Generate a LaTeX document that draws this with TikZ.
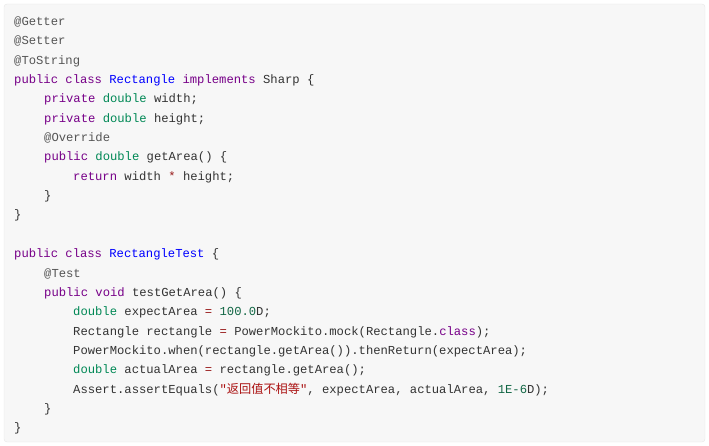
\documentclass[tikz,border=0pt]{standalone}
\usepackage{fontspec}
\newfontfamily\cf{Liberation Mono}
\newfontfamily\cjk{Noto Sans CJK SC}
\definecolor{bgc}{HTML}{F7F7F7}
\definecolor{bdc}{HTML}{E6E6E6}
\definecolor{kw}{HTML}{770088}
\definecolor{ty}{HTML}{008855}
\definecolor{df}{HTML}{0000FF}
\definecolor{an}{HTML}{555555}
\definecolor{nm}{HTML}{116644}
\definecolor{op}{HTML}{981A1A}
\definecolor{st}{HTML}{AA1111}
\definecolor{tx}{HTML}{333333}
\newcommand\K[1]{\textcolor{kw}{#1}}
\newcommand\T[1]{\textcolor{ty}{#1}}
\newcommand\D[1]{\textcolor{df}{#1}}
\newcommand\A[1]{\textcolor{an}{#1}}
\newcommand\N[1]{\textcolor{nm}{#1}}
\newcommand\R[1]{\textcolor{op}{#1}}
\newcommand\Sx[1]{\textcolor{st}{#1}}
\tikzset{codeline/.style={anchor=base west,inner sep=0pt,font=\cf\fontsize{12.2}{14}\selectfont,text=tx}}
\begin{document}
\begin{tikzpicture}[x=1pt,y=1pt]
\useasboundingbox (0,0) rectangle (709,-446);
\draw[bdc,fill=bgc,rounded corners=3pt] (4,-4) rectangle (705,-442);
\def\lh{19.35}
\newcommand\Ln[3]{\node[codeline] (l#1) at (#2,{-25.5-(#1-1)*\lh}) {#3};}
\Ln{1}{14}{\A{@Getter}}
\Ln{2}{14}{\A{@Setter}}
\Ln{3}{14}{\A{@ToString}}
\Ln{4}{14}{\K{public} \K{class} \D{Rectangle} \K{implements} Sharp \{}
\Ln{5}{44}{\K{private} \T{double} width;}
\Ln{6}{44}{\K{private} \T{double} height;}
\Ln{7}{44}{\A{@Override}}
\Ln{8}{44}{\K{public} \T{double} getArea() \{}
\Ln{9}{73}{\K{return} width \R{*} height;}
\Ln{10}{44}{\}}
\Ln{11}{14}{\}}
\Ln{13}{14}{\K{public} \K{class} \D{RectangleTest} \{}
\Ln{14}{44}{\A{@Test}}
\Ln{15}{44}{\K{public} \K{void} testGetArea() \{}
\Ln{16}{73}{\T{double} expectArea \R{=} \N{100.0}D;}
\Ln{17}{73}{Rectangle rectangle \R{=} PowerMockito.mock(Rectangle.\K{class});}
\Ln{18}{73}{PowerMockito.when(rectangle.getArea()).thenReturn(expectArea);}
\Ln{19}{73}{\T{double} actualArea \R{=} rectangle.getArea();}
\Ln{20}{73}{Assert.assertEquals(\Sx{"{\cjk 返回值不相等}"}, expectArea, actualArea, \N{1E-6}D);}
\Ln{21}{44}{\}}
\Ln{22}{14}{\}}
\end{tikzpicture}
\end{document}
